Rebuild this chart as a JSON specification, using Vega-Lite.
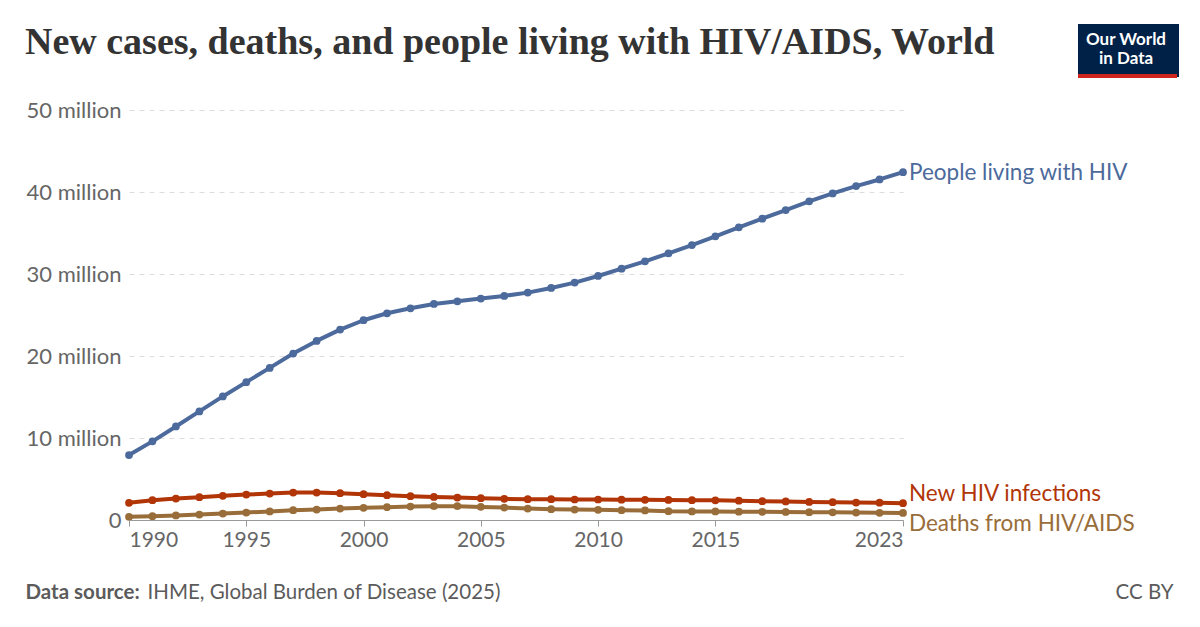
{
  "$schema": "https://vega.github.io/schema/vega-lite/v6.json",
  "autosize": "none",
  "width": 774,
  "height": 410,
  "padding": {"left": 129, "top": 110, "right": 297, "bottom": 107},
  "background": "#ffffff",
  "title": {
    "text": "New cases, deaths, and people living with HIV/AIDS, World",
    "anchor": "start",
    "frame": "group",
    "dx": -104,
    "dy": 68,
    "baseline": "alphabetic",
    "font": "Liberation Serif",
    "fontSize": 38,
    "fontWeight": "bold",
    "color": "#333333",
    "offset": 0
  },
  "datasets": {
    "hiv": [
      {"year": 1990, "series": "People living with HIV", "value": 7.92},
      {"year": 1991, "series": "People living with HIV", "value": 9.59},
      {"year": 1992, "series": "People living with HIV", "value": 11.41},
      {"year": 1993, "series": "People living with HIV", "value": 13.24},
      {"year": 1994, "series": "People living with HIV", "value": 15.07},
      {"year": 1995, "series": "People living with HIV", "value": 16.81},
      {"year": 1996, "series": "People living with HIV", "value": 18.55},
      {"year": 1997, "series": "People living with HIV", "value": 20.3},
      {"year": 1998, "series": "People living with HIV", "value": 21.84},
      {"year": 1999, "series": "People living with HIV", "value": 23.22},
      {"year": 2000, "series": "People living with HIV", "value": 24.36},
      {"year": 2001, "series": "People living with HIV", "value": 25.21},
      {"year": 2002, "series": "People living with HIV", "value": 25.82},
      {"year": 2003, "series": "People living with HIV", "value": 26.35},
      {"year": 2004, "series": "People living with HIV", "value": 26.67},
      {"year": 2005, "series": "People living with HIV", "value": 27.0},
      {"year": 2006, "series": "People living with HIV", "value": 27.33},
      {"year": 2007, "series": "People living with HIV", "value": 27.73},
      {"year": 2008, "series": "People living with HIV", "value": 28.3},
      {"year": 2009, "series": "People living with HIV", "value": 28.95},
      {"year": 2010, "series": "People living with HIV", "value": 29.76},
      {"year": 2011, "series": "People living with HIV", "value": 30.65},
      {"year": 2012, "series": "People living with HIV", "value": 31.55},
      {"year": 2013, "series": "People living with HIV", "value": 32.52},
      {"year": 2014, "series": "People living with HIV", "value": 33.53},
      {"year": 2015, "series": "People living with HIV", "value": 34.59},
      {"year": 2016, "series": "People living with HIV", "value": 35.69},
      {"year": 2017, "series": "People living with HIV", "value": 36.75},
      {"year": 2018, "series": "People living with HIV", "value": 37.8},
      {"year": 2019, "series": "People living with HIV", "value": 38.86},
      {"year": 2020, "series": "People living with HIV", "value": 39.83},
      {"year": 2021, "series": "People living with HIV", "value": 40.72},
      {"year": 2022, "series": "People living with HIV", "value": 41.53},
      {"year": 2023, "series": "People living with HIV", "value": 42.42},
      {"year": 1990, "series": "New HIV infections", "value": 2.09},
      {"year": 1991, "series": "New HIV infections", "value": 2.41},
      {"year": 1992, "series": "New HIV infections", "value": 2.62},
      {"year": 1993, "series": "New HIV infections", "value": 2.78},
      {"year": 1994, "series": "New HIV infections", "value": 2.95},
      {"year": 1995, "series": "New HIV infections", "value": 3.1},
      {"year": 1996, "series": "New HIV infections", "value": 3.23},
      {"year": 1997, "series": "New HIV infections", "value": 3.35},
      {"year": 1998, "series": "New HIV infections", "value": 3.35},
      {"year": 1999, "series": "New HIV infections", "value": 3.27},
      {"year": 2000, "series": "New HIV infections", "value": 3.15},
      {"year": 2001, "series": "New HIV infections", "value": 3.03},
      {"year": 2002, "series": "New HIV infections", "value": 2.9},
      {"year": 2003, "series": "New HIV infections", "value": 2.82},
      {"year": 2004, "series": "New HIV infections", "value": 2.74},
      {"year": 2005, "series": "New HIV infections", "value": 2.66},
      {"year": 2006, "series": "New HIV infections", "value": 2.58},
      {"year": 2007, "series": "New HIV infections", "value": 2.54},
      {"year": 2008, "series": "New HIV infections", "value": 2.54},
      {"year": 2009, "series": "New HIV infections", "value": 2.5},
      {"year": 2010, "series": "New HIV infections", "value": 2.5},
      {"year": 2011, "series": "New HIV infections", "value": 2.48},
      {"year": 2012, "series": "New HIV infections", "value": 2.46},
      {"year": 2013, "series": "New HIV infections", "value": 2.45},
      {"year": 2014, "series": "New HIV infections", "value": 2.42},
      {"year": 2015, "series": "New HIV infections", "value": 2.4},
      {"year": 2016, "series": "New HIV infections", "value": 2.36},
      {"year": 2017, "series": "New HIV infections", "value": 2.3},
      {"year": 2018, "series": "New HIV infections", "value": 2.26},
      {"year": 2019, "series": "New HIV infections", "value": 2.21},
      {"year": 2020, "series": "New HIV infections", "value": 2.17},
      {"year": 2021, "series": "New HIV infections", "value": 2.13},
      {"year": 2022, "series": "New HIV infections", "value": 2.11},
      {"year": 2023, "series": "New HIV infections", "value": 2.05},
      {"year": 1990, "series": "Deaths from HIV/AIDS", "value": 0.39},
      {"year": 1991, "series": "Deaths from HIV/AIDS", "value": 0.47},
      {"year": 1992, "series": "Deaths from HIV/AIDS", "value": 0.55},
      {"year": 1993, "series": "Deaths from HIV/AIDS", "value": 0.67},
      {"year": 1994, "series": "Deaths from HIV/AIDS", "value": 0.79},
      {"year": 1995, "series": "Deaths from HIV/AIDS", "value": 0.91},
      {"year": 1996, "series": "Deaths from HIV/AIDS", "value": 1.04},
      {"year": 1997, "series": "Deaths from HIV/AIDS", "value": 1.2},
      {"year": 1998, "series": "Deaths from HIV/AIDS", "value": 1.28},
      {"year": 1999, "series": "Deaths from HIV/AIDS", "value": 1.4},
      {"year": 2000, "series": "Deaths from HIV/AIDS", "value": 1.48},
      {"year": 2001, "series": "Deaths from HIV/AIDS", "value": 1.56},
      {"year": 2002, "series": "Deaths from HIV/AIDS", "value": 1.64},
      {"year": 2003, "series": "Deaths from HIV/AIDS", "value": 1.68},
      {"year": 2004, "series": "Deaths from HIV/AIDS", "value": 1.68},
      {"year": 2005, "series": "Deaths from HIV/AIDS", "value": 1.6},
      {"year": 2006, "series": "Deaths from HIV/AIDS", "value": 1.52},
      {"year": 2007, "series": "Deaths from HIV/AIDS", "value": 1.4},
      {"year": 2008, "series": "Deaths from HIV/AIDS", "value": 1.32},
      {"year": 2009, "series": "Deaths from HIV/AIDS", "value": 1.28},
      {"year": 2010, "series": "Deaths from HIV/AIDS", "value": 1.24},
      {"year": 2011, "series": "Deaths from HIV/AIDS", "value": 1.2},
      {"year": 2012, "series": "Deaths from HIV/AIDS", "value": 1.16},
      {"year": 2013, "series": "Deaths from HIV/AIDS", "value": 1.07},
      {"year": 2014, "series": "Deaths from HIV/AIDS", "value": 1.05},
      {"year": 2015, "series": "Deaths from HIV/AIDS", "value": 1.04},
      {"year": 2016, "series": "Deaths from HIV/AIDS", "value": 1.02},
      {"year": 2017, "series": "Deaths from HIV/AIDS", "value": 1.0},
      {"year": 2018, "series": "Deaths from HIV/AIDS", "value": 0.98},
      {"year": 2019, "series": "Deaths from HIV/AIDS", "value": 0.96},
      {"year": 2020, "series": "Deaths from HIV/AIDS", "value": 0.93},
      {"year": 2021, "series": "Deaths from HIV/AIDS", "value": 0.9},
      {"year": 2022, "series": "Deaths from HIV/AIDS", "value": 0.88},
      {"year": 2023, "series": "Deaths from HIV/AIDS", "value": 0.86}
    ]
  },
  "data": {"name": "hiv"},
  "config": {
    "view": {"stroke": null},
    "font": "Lato",
    "text": {"font": "Lato"}
  },
  "resolve": {"axis": {"y": "independent"}},
  "layer": [
    {
      "encoding": {
        "x": {
          "field": "year",
          "type": "quantitative",
          "scale": {"domain": [1990, 2023], "nice": false, "zero": false},
          "axis": {
            "values": [1990, 1995, 2000, 2005, 2010, 2015, 2023],
            "format": "d",
            "labelFlush": true,
            "grid": false,
            "domainColor": "#999999",
            "tickColor": "#999999",
            "tickSize": 6,
            "labelColor": "#666666",
            "labelFont": "Lato",
            "labelFontSize": 21,
            "labelPadding": 3,
            "zindex": 1,
            "title": "IHME, Global Burden of Disease (2025)",
            "titleFont": "Lato",
            "titleFontSize": 20.5,
            "titleFontWeight": "normal",
            "titleColor": "#5b5b5b",
            "titleAlign": "left",
            "titleBaseline": "alphabetic",
            "titleX": 18,
            "titleY": 78
          }
        },
        "y": {
          "field": "value",
          "type": "quantitative",
          "scale": {"domain": [0, 50], "nice": false},
          "axis": {
            "values": [0, 10, 20, 30, 40, 50],
            "labelExpr": "datum.value == 0 ? '0' : datum.value + ' million'",
            "domain": false,
            "ticks": false,
            "grid": true,
            "gridColor": "#dddddd",
            "gridDash": [5, 5],
            "gridWidth": 1,
            "labelColor": "#666666",
            "labelFont": "Lato",
            "labelFontSize": 22,
            "labelPadding": 8,
            "title": "Data source:",
            "titleFont": "Lato",
            "titleFontSize": 20.5,
            "titleFontWeight": "bold",
            "titleColor": "#5b5b5b",
            "titleAngle": 0,
            "titleAlign": "left",
            "titleBaseline": "alphabetic",
            "titleX": -104,
            "titleY": 488
          }
        },
        "color": {
          "field": "series",
          "type": "nominal",
          "scale": {
            "domain": ["People living with HIV", "New HIV infections", "Deaths from HIV/AIDS"],
            "range": ["#4c6a9c", "#b13507", "#996d39"]
          },
          "legend": null
        }
      },
      "layer": [
        {"mark": {"type": "line", "strokeWidth": 4, "strokeJoin": "round"}},
        {"mark": {"type": "point", "filled": true, "size": 60, "opacity": 1}},
        {
          "transform": [{"filter": "datum.year == 2023 && datum.series == 'People living with HIV'"}],
          "mark": {"type": "text", "align": "left", "baseline": "middle", "dx": 6, "dy": 1, "fontSize": 22.5, "font": "Lato"},
          "encoding": {"text": {"field": "series"}}
        },
        {
          "transform": [{"filter": "datum.year == 2023 && datum.series == 'New HIV infections'"}],
          "mark": {"type": "text", "align": "left", "baseline": "middle", "dx": 6, "dy": -9, "fontSize": 22.5, "font": "Lato"},
          "encoding": {"text": {"field": "series"}}
        },
        {
          "transform": [{"filter": "datum.year == 2023 && datum.series == 'Deaths from HIV/AIDS'"}],
          "mark": {"type": "text", "align": "left", "baseline": "middle", "dx": 6, "dy": 11, "fontSize": 22.5, "font": "Lato"},
          "encoding": {"text": {"field": "series"}}
        }
      ]
    },
    {
      "mark": {"type": "point", "filled": true, "opacity": 0},
      "encoding": {
        "y": {
          "field": "value",
          "type": "quantitative",
          "axis": {
            "orient": "right",
            "labels": false,
            "ticks": false,
            "domain": false,
            "grid": false,
            "title": "CC BY",
            "titleFont": "Lato",
            "titleFontSize": 20.5,
            "titleFontWeight": "normal",
            "titleColor": "#5b5b5b",
            "titleAngle": 0,
            "titleAlign": "right",
            "titleBaseline": "alphabetic",
            "titleX": 270,
            "titleY": 488
          }
        },
        "fill": {
          "field": "value",
          "type": "quantitative",
          "scale": {"range": ["#002147", "#002147"]},
          "legend": {
            "type": "gradient",
            "orient": "none",
            "legendX": 949,
            "legendY": -86,
            "direction": "horizontal",
            "title": ["Our World", "in Data"],
            "titleColor": "#ffffff",
            "titleFont": "Lato",
            "titleFontSize": 17,
            "titleFontWeight": "bold",
            "titleLineHeight": 19,
            "titleAnchor": "middle",
            "titleAlign": "center",
            "titlePadding": 0,
            "gradientLength": 83,
            "gradientThickness": 1,
            "gradientStrokeWidth": 0,
            "values": [],
            "padding": 8,
            "fillColor": "#002147"
          }
        },
        "stroke": {
          "field": "year",
          "type": "quantitative",
          "scale": {"range": ["#ce261e", "#ce261e"]},
          "legend": {
            "type": "gradient",
            "orient": "none",
            "legendX": 949,
            "legendY": -36,
            "direction": "horizontal",
            "title": null,
            "gradientLength": 99,
            "gradientThickness": 4,
            "gradientStrokeWidth": 0,
            "values": [],
            "padding": 0
          }
        }
      }
    }
  ]
}
